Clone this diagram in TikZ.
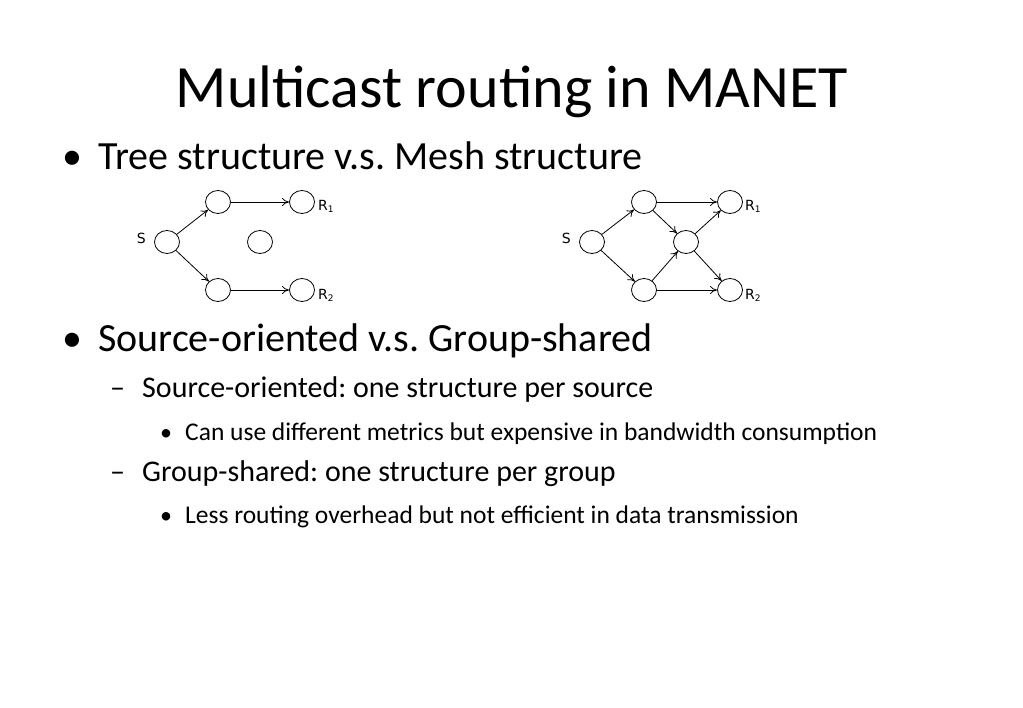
\documentclass[tikz,border=0pt]{standalone}
\usepackage{fontspec}
\setmainfont{Carlito}
\newfontfamily\lbl{DejaVu Sans}
\usetikzlibrary{shapes.geometric,arrows.meta}
\frenchspacing
\newcommand{\subx}[1]{\raisebox{-2pt}{\fontsize{9}{9}\selectfont #1}}
\begin{document}
\begin{tikzpicture}[x=1pt,y=-1pt,
 nd/.style={draw,ellipse,minimum width=25pt,minimum height=23pt,inner sep=0pt,line width=0.8pt},
 ar/.style={-{To[length=7pt,width=8pt]},line width=0.8pt},
 lb/.style={font=\lbl\fontsize{14}{14}\selectfont,anchor=west,inner sep=0pt},
 tx/.style={anchor=base west,inner sep=0pt}]
\useasboundingbox[fill=white] (0,0) rectangle (1023,708);
\node[anchor=base,inner sep=0pt,font=\fontsize{60}{60}\selectfont] (title) at (512,108) {Multicast routing in MANET};
\node[tx,font=\fontsize{40}{40}\selectfont] (b1) at (62,170) {•};
\node[tx,font=\fontsize{40}{40}\selectfont] (t1) at (98,170) {Tree structure v.s. Mesh structure};
\node[tx,font=\fontsize{40}{40}\selectfont] (b2) at (62,352) {•};
\node[tx,font=\fontsize{40}{40}\selectfont] (t2) at (98,352) {Source-oriented v.s. Group-shared};
\node[tx,font=\fontsize{30}{30}\selectfont] (b3) at (110,398) {–};
\node[tx,font=\fontsize{30}{30}\selectfont] (t3) at (142,398) {Source-oriented: one structure per source};
\node[tx,font=\fontsize{24}{24}\selectfont] (b4) at (160,440) {•};
\node[tx,font=\fontsize{25.5}{25.5}\selectfont] (t4) at (185,440) {Can use different metrics but expensive in bandwidth consumption};
\node[tx,font=\fontsize{30}{30}\selectfont] (b5) at (110,482) {–};
\node[tx,font=\fontsize{30}{30}\selectfont] (t5) at (142,482) {Group-shared: one structure per group};
\node[tx,font=\fontsize{24}{24}\selectfont] (b6) at (160,523) {•};
\node[tx,font=\fontsize{25.5}{25.5}\selectfont] (t6) at (185,523) {Less routing overhead but not efficient in data transmission};
% left tree
\node[nd] (s) at (167,242) {};
\node[nd] (a) at (218,202) {};
\node[nd] (b) at (218,290) {};
\node[nd] (m) at (260,242) {};
\node[nd] (r1) at (302,202) {};
\node[nd] (r2) at (302,290) {};
\node[lb,anchor=east] (sl) at (146,238) {S};
\node[lb] (r1l) at (318,206) {R\subx{1}};
\node[lb] (r2l) at (318,295) {R\subx{2}};
\draw[ar] (s) -- (a); \draw[ar] (s) -- (b);
\draw[ar] (a) -- (r1); \draw[ar] (b) -- (r2);
% right mesh
\node[nd] (S) at (592,242) {};
\node[nd] (A) at (644,202) {};
\node[nd] (B) at (644,290) {};
\node[nd] (M) at (686,242) {};
\node[nd] (R1) at (730,202) {};
\node[nd] (R2) at (730,290) {};
\node[lb,anchor=east] (Sl) at (571,238) {S};
\node[lb] (R1l) at (745,206) {R\subx{1}};
\node[lb] (R2l) at (745,295) {R\subx{2}};
\draw[ar] (S) -- (A); \draw[ar] (S) -- (B);
\draw[ar] (A) -- (R1); \draw[ar] (B) -- (R2);
\draw[ar] (A) -- (M); \draw[ar] (B) -- (M);
\draw[ar] (M) -- (R1); \draw[ar] (M) -- (R2);
\end{tikzpicture}
\end{document}
